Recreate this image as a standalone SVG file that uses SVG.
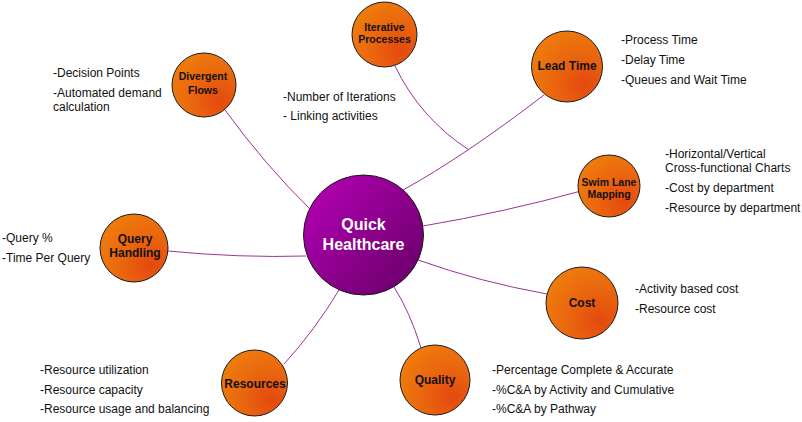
<svg xmlns="http://www.w3.org/2000/svg" width="802" height="422" viewBox="0 0 802 422">
<style>
text{font-family:"Liberation Sans",Arial,sans-serif}
.n{stroke:#1a1a1a;stroke-width:1;fill:url(#o)}
.l{font-size:12px;font-weight:bold;fill:#111;text-anchor:middle}
.s{font-size:10.500px}
.t{font-size:12px;fill:#111}
.c{fill:none;stroke:#993399;stroke-width:1}
</style>
<defs>
<radialGradient id="o" cx="0.75" cy="0.75" r="0.8" fx="0.75" fy="0.75"><stop offset="0" stop-color="#e4490f"/><stop offset="0.55" stop-color="#ea660f"/><stop offset="1" stop-color="#ee7a0c"/></radialGradient>
<linearGradient id="p" x1="0.1" y1="0.15" x2="0.9" y2="0.85"><stop offset="0" stop-color="#ae00ae"/><stop offset="1" stop-color="#6e006e"/></linearGradient>
</defs>
<g id="connectors">
<path class="c" d="M403 190Q463 157 544 95"/>
<path class="c" d="M395 66Q420 118 469 150"/>
<path class="c" d="M423 226Q505 212 581 191"/>
<path class="c" d="M418 260Q480 282 547 294"/>
<path class="c" d="M394 287Q410 312 421 348"/>
<path class="c" d="M339 290Q315 330 284 364"/>
<path class="c" d="M168 251Q240 258 306 256"/>
<path class="c" d="M225 110Q265 165 310 209"/>
</g>
<g id="hub"><circle cx="363.500" cy="235" r="60" fill="url(#p)" stroke="#1a1a1a"/><text x="363.500" y="230" text-anchor="middle" font-size="16" font-weight="bold" fill="#fff">Quick</text><text x="363.500" y="250" text-anchor="middle" font-size="16" font-weight="bold" fill="#fff">Healthcare</text></g>
<g id="iterative"><circle class="n" cx="384.500" cy="34.500" r="32.500"/><text class="l s" x="384.500" y="31">Iterative</text><text class="l s" x="384.500" y="43">Processes</text></g>
<g id="lead"><circle class="n" cx="567" cy="66.500" r="35.500"/><text class="l" x="567" y="70">Lead Time</text></g>
<g id="swim"><circle class="n" cx="609" cy="186" r="31"/><text class="l s" x="609" y="186">Swim Lane</text><text class="l s" x="609" y="198">Mapping</text></g>
<g id="cost"><circle class="n" cx="582" cy="303" r="36"/><text class="l" x="582" y="307">Cost</text></g>
<g id="quality"><circle class="n" cx="435" cy="380" r="35"/><text class="l" x="435" y="384">Quality</text></g>
<g id="resources"><circle class="n" cx="254.500" cy="383" r="33"/><text class="l" x="255" y="388">Resources</text></g>
<g id="query"><circle class="n" cx="134" cy="248" r="34"/><text class="l" x="135" y="243">Query</text><text class="l" x="135" y="257">Handling</text></g>
<g id="divergent"><circle class="n" cx="204" cy="85" r="32"/><text class="l s" x="203" y="80">Divergent</text><text class="l s" x="203" y="94">Flows</text></g>
<g id="notes">
<text class="t" x="53" y="77">-Decision Points</text><text class="t" x="53" y="97">-Automated demand</text><text class="t" x="53" y="111">calculation</text>
<text class="t" x="283" y="101">-Number of Iterations</text><text class="t" x="283" y="120">- Linking activities</text>
<text class="t" x="621" y="44">-Process Time</text><text class="t" x="621" y="64">-Delay Time</text><text class="t" x="621" y="84">-Queues and Wait Time</text>
<text class="t" x="665" y="158">-Horizontal/Vertical</text><text class="t" x="665" y="172">Cross-functional Charts</text><text class="t" x="665" y="192">-Cost by department</text><text class="t" x="665" y="212">-Resource by department</text>
<text class="t" x="2" y="242">-Query %</text><text class="t" x="2" y="262">-Time Per Query</text>
<text class="t" x="635" y="293">-Activity based cost</text><text class="t" x="635" y="313">-Resource cost</text>
<text class="t" x="40" y="374">-Resource utilization</text><text class="t" x="40" y="394">-Resource capacity</text><text class="t" x="40" y="413">-Resource usage and balancing</text>
<text class="t" x="492" y="374">-Percentage Complete &amp; Accurate</text><text class="t" x="492" y="394">-%C&amp;A by Activity and Cumulative</text><text class="t" x="492" y="413">-%C&amp;A by Pathway</text>
</g>
</svg>
